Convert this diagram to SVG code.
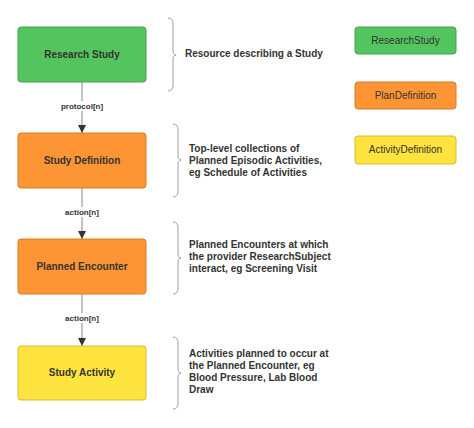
<svg xmlns="http://www.w3.org/2000/svg" width="474" height="428" viewBox="0 0 474 428">
<defs>
<style>
.box{stroke-width:1}
.g{fill:#54c45e;stroke:#46a34f}
.o{fill:#fd9535;stroke:#d97a26}
.y{fill:#ffe33f;stroke:#d4bb35}
.nt{font-family:"Liberation Sans",Arial,sans-serif;font-weight:bold;font-size:10px;fill:#333333;text-anchor:middle}
.lt{font-family:"Liberation Sans",Arial,sans-serif;font-size:10px;fill:#333333;text-anchor:middle}
.dt{font-family:"Liberation Sans",Arial,sans-serif;font-weight:bold;font-size:10px;fill:#333333}
.el{font-family:"Liberation Sans",Arial,sans-serif;font-weight:bold;font-size:8px;fill:#333333;text-anchor:middle}
.edge{stroke:#9a9a9a;stroke-width:1.2;fill:none}
.brace{stroke:#a0a0a0;stroke-width:1;fill:none}
</style>
<marker id="ah" viewBox="0 0 10 10" refX="10" refY="5" markerWidth="8" markerHeight="8" markerUnits="userSpaceOnUse" orient="auto">
<path d="M0,0 L10,5 L0,10 z" fill="#333333"/>
</marker>
</defs>
<rect width="474" height="428" fill="#ffffff"/>
<g id="connectors">
<line class="edge" x1="82" y1="82" x2="82" y2="133" marker-end="url(#ah)"/>
<rect x="60" y="101" width="44" height="10" fill="#ffffff"/>
<text class="el" x="82" y="109">protocol[n]</text>
<line class="edge" x1="82" y1="188" x2="82" y2="239" marker-end="url(#ah)"/>
<rect x="64" y="207" width="36" height="10" fill="#ffffff"/>
<text class="el" x="82" y="215">action[n]</text>
<line class="edge" x1="82" y1="294" x2="82" y2="346" marker-end="url(#ah)"/>
<rect x="64" y="313" width="36" height="10" fill="#ffffff"/>
<text class="el" x="82" y="321">action[n]</text>
</g>
<g id="research-study">
<rect class="box g" x="18" y="27" width="128" height="55" rx="3"/>
<text class="nt" x="82" y="58">Research Study</text>
</g>
<g id="study-definition">
<rect class="box o" x="18" y="133" width="128" height="55" rx="3"/>
<text class="nt" x="82" y="164">Study Definition</text>
</g>
<g id="planned-encounter">
<rect class="box o" x="18" y="239" width="128" height="55" rx="3"/>
<text class="nt" x="82" y="270">Planned Encounter</text>
</g>
<g id="study-activity">
<rect class="box y" x="18" y="346" width="128" height="54" rx="3"/>
<text class="nt" x="82" y="376">Study Activity</text>
</g>
<g id="brace-1">
<path class="brace" d="M168,18 Q173,18 173,24 L173,50 Q173,55 176,55 Q173,55 173,60 L173,85 Q173,91 168,91"/>
<text class="dt" x="185" y="57">Resource describing a Study</text>
</g>
<g id="brace-2">
<path class="brace" d="M173,124 Q178,124 178,130 L178,155 Q178,160 181,160 Q178,160 178,165 L178,191 Q178,197 173,197"/>
<text class="dt" x="189" y="152">Top-level collections of</text>
<text class="dt" x="189" y="164">Planned Episodic Activities,</text>
<text class="dt" x="189" y="176">eg Schedule of Activities</text>
</g>
<g id="brace-3">
<path class="brace" d="M173,222 Q178,222 178,228 L178,253 Q178,258 181,258 Q178,258 178,263 L178,288 Q178,294 173,294"/>
<text class="dt" x="189" y="248">Planned Encounters at which</text>
<text class="dt" x="189" y="260">the provider ResearchSubject</text>
<text class="dt" x="189" y="272">interact, eg Screening Visit</text>
</g>
<g id="brace-4">
<path class="brace" d="M173,337 Q178,337 178,343 L178,368 Q178,373 181,373 Q178,373 178,378 L178,403 Q178,409 173,409"/>
<text class="dt" x="189" y="357">Activities planned to occur at</text>
<text class="dt" x="189" y="369">the Planned Encounter, eg</text>
<text class="dt" x="189" y="381">Blood Pressure, Lab Blood</text>
<text class="dt" x="189" y="393">Draw</text>
</g>
<g id="legend-researchstudy">
<rect class="box g" x="355" y="27" width="101" height="27" rx="3"/>
<text class="lt" x="405.5" y="44">ResearchStudy</text>
</g>
<g id="legend-plandefinition">
<rect class="box o" x="355" y="82" width="101" height="27" rx="3"/>
<text class="lt" x="405.5" y="99">PlanDefinition</text>
</g>
<g id="legend-activitydefinition">
<rect class="box y" x="355" y="136" width="101" height="28" rx="3"/>
<text class="lt" x="405.5" y="153">ActivityDefinition</text>
</g>
</svg>
